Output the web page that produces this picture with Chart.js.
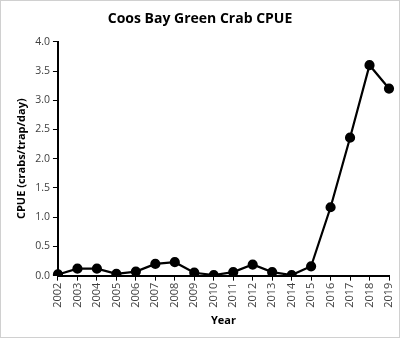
<!DOCTYPE html>
<html><head><meta charset="utf-8">
<script src="https://cdn.jsdelivr.net/npm/chart.js@4/dist/chart.umd.min.js"></script>
<style>
html,body{margin:0;padding:0;background:#fff;}
#wrap{width:398px;height:336px;border:1px solid #d0d0d0;position:relative;}
canvas{display:block;}
</style></head><body>
<div id="wrap"><canvas id="c" width="398" height="336"></canvas></div>
<script>
const years = ["2002","2003","2004","2005","2006","2007","2008","2009","2010","2011","2012","2013","2014","2015","2016","2017","2018","2019"];
const cpue = [0.02,0.12,0.12,0.03,0.07,0.20,0.23,0.05,0.01,0.06,0.19,0.06,0.01,0.16,1.17,2.36,3.60,3.20];
const yTicks = [0,0.5,1,1.5,2,2.5,3,3.5,4];

const font = "'Open Sans', 'Liberation Sans', sans-serif";
new Chart(document.getElementById('c'), {
  type: 'line',
  data: { labels: years, datasets: [{
    data: cpue, borderColor:'#000', backgroundColor:'#000', borderWidth:2.2,
    pointRadius:4, pointBackgroundColor:'#000', pointBorderColor:'#000', tension:0
  }]},
  options: {
    responsive:false, animation:false,
    layout:{padding:{left:10,right:10,top:4,bottom:6}},
    plugins:{
      legend:{display:false},
      tooltip:{enabled:false},
      title:{display:true,text:'Coos Bay Green Crab CPUE',color:'#000',
        font:{family:font,size:14,weight:'bold'},padding:{top:6,bottom:14}}
    },
    scales:{
      x:{
        offset:false,
        afterFit:(s)=>{s.paddingRight=0;},
        grid:{drawOnChartArea:false,color:'#000',tickLength:5,lineWidth:1},
        border:{color:'#000',width:2},
        ticks:{color:'#404040',font:{family:font,size:11},minRotation:90,maxRotation:90,padding:2,autoSkip:false},
        title:{display:true,text:'Year',color:'#000',font:{family:font,size:11,weight:'bold'},padding:{top:4}}
      },
      y:{
        min:0,max:4,
        afterBuildTicks:(s)=>{s.ticks=yTicks.map(v=>({value:v}));},
        grid:{drawOnChartArea:false,color:'#000',tickLength:5,lineWidth:1},
        border:{color:'#000',width:2},
        ticks:{color:'#404040',font:{family:font,size:10.5},callback:(v)=>Number(v).toFixed(1),padding:3},
        title:{display:true,text:'CPUE (crabs/trap/day)',color:'#000',font:{family:font,size:11,weight:'bold'},padding:{bottom:4}}
      }
    }
  }
});
</script>
</body></html>
